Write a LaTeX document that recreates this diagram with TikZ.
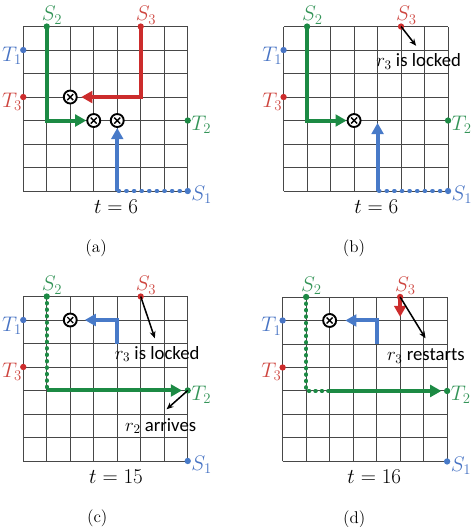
\RequirePackage{fix-cm}
\documentclass[tikz,border=0pt]{standalone}
\usepackage{fontspec}
\newfontfamily\notefont{Carlito}
\usetikzlibrary{arrows.meta}

\definecolor{pathgreen}{RGB}{28,138,68}
\definecolor{pathred}{RGB}{204,44,44}
\definecolor{pathblue}{RGB}{72,122,200}
\definecolor{lblgreen}{RGB}{52,148,88}
\definecolor{lblred}{RGB}{206,70,64}
\definecolor{lblblue}{RGB}{72,116,196}

\begin{document}
\begin{tikzpicture}[
        x=0.705cm, y=0.705cm,
        gridline/.style={draw=black!72, line width=0.8pt, step={(1,1)}},
        robot/.style={circle, fill=#1, minimum size=1.9mm, inner sep=0pt},
        route/.style={draw=#1, line width=3.4pt, -{Triangle[length=9.5pt,width=10pt]}},
        waited/.style={draw=#1, line width=3.4pt, line cap=round, dash pattern=on 0.6pt off 5.9pt},
        blocked/.style={circle, draw=black, line width=1.6pt, fill=white, minimum size=3.9mm, inner sep=0pt,
            path picture={\draw[line width=1.2pt] (path picture bounding box.center)
                +(-0.9mm,-0.9mm) -- +(0.9mm,0.9mm) +(-0.9mm,0.9mm) -- +(0.9mm,-0.9mm);}},
        lbl/.style={font=\fontsize{18}{20}\selectfont, text=#1, inner sep=1pt},
        note/.style={font=\notefont\fontsize{16}{18}\selectfont, inner sep=0pt},
        callout/.style={draw=black, line width=1.3pt, -{Stealth[length=6pt,width=5pt]}},
        timelbl/.style={font=\fontsize{18}{20}\selectfont},
        caption/.style={font=\fontsize{14.5}{17}\selectfont}
    ]

    \useasboundingbox (0,0) rectangle (20.17,22.43);

    % (a) three robots run into each other
    \begin{scope}[shift={(0.99,14.30)}, name prefix=a-]
        \draw[gridline] (0,0) grid (7,7);
        \node[robot=lblblue, label={[lbl=lblblue, yshift=-5pt, label distance=-3pt]left:$T_1$}] (t1) at (0,6) {};
        \node[robot=pathred, label={[lbl=lblred, yshift=-4pt, label distance=-3pt]left:$T_3$}] (t3) at (0,4) {};
        \node[robot=pathgreen, label={[lbl=lblgreen, yshift=-3.5pt, label distance=-1pt]right:$T_2$}] (t2) at (7,3) {};
        \node[robot=pathblue, label={[lbl=lblblue, yshift=-3.5pt, label distance=-1pt]right:$S_1$}] (s1) at (7,0) {};
        \node[robot=pathgreen, label={[lbl=lblgreen, xshift=4.5pt, label distance=-2pt]above:$S_2$}] (s2) at (1,7) {};
        \node[robot=pathred, label={[lbl=lblred, xshift=4.5pt, label distance=-2pt]above:$S_3$}] (s3) at (5,7) {};
        \node[blocked] (x3) at (2,4) {};
        \node[blocked] (x2) at (3,3) {};
        \node[blocked] (x1) at (4,3) {};
        \draw[route=pathgreen] (s2.center) |- (x2);
        \draw[route=pathred, shorten >=3pt] (s3.center) |- (x3);
        \draw[waited=pathblue] (s1.center) -- (4,0);
        \draw[route=pathblue] (4,0) -- (x1);
        \node[timelbl] (time) at (3.95,-0.68) {$t = 6$};
        \node[caption] (cap) at (3.1,-2.43) {(a)};
    \end{scope}

    % (b) r3 waits at its start
    \begin{scope}[shift={(12.07,14.30)}, name prefix=b-]
        \draw[gridline] (0,0) grid (7,7);
        \node[robot=lblblue, label={[lbl=lblblue, yshift=-5pt, label distance=-3pt]left:$T_1$}] (t1) at (0,6) {};
        \node[robot=pathred, label={[lbl=lblred, yshift=-4pt, label distance=-3pt]left:$T_3$}] (t3) at (0,4) {};
        \node[robot=pathgreen, label={[lbl=lblgreen, yshift=-3.5pt, label distance=-1pt]right:$T_2$}] (t2) at (7,3) {};
        \node[robot=pathblue, label={[lbl=lblblue, yshift=-3.5pt, label distance=-1pt]right:$S_1$}] (s1) at (7,0) {};
        \node[robot=pathgreen, label={[lbl=lblgreen, xshift=4.5pt, label distance=-2pt]above:$S_2$}] (s2) at (1,7) {};
        \node[robot=pathred, label={[lbl=lblred, xshift=4.5pt, label distance=-2pt]above:$S_3$}] (s3) at (5,7) {};
        \node[blocked] (x2) at (3,3) {};
        \coordinate (r1) at (4,2.9);
        \coordinate (lockend) at (5.64,6.18);
        \draw[route=pathgreen] (s2.center) |- (x2);
        \draw[waited=pathblue] (s1.center) -- (4,0);
        \draw[route=pathblue] (4,0) -- (r1);
        \draw[callout] (s3.center) -- (lockend);
        \node[note] (lockmsg) at (5.75,5.5) {$r_3$ is locked};
        \node[timelbl] (time) at (3.95,-0.68) {$t = 6$};
        \node[caption] (cap) at (3.0,-2.43) {(b)};
    \end{scope}

    % (c) r2 reaches its target
    \begin{scope}[shift={(0.99,2.81)}, name prefix=c-]
        \draw[gridline] (0,0) grid (7,7);
        \node[robot=lblblue, label={[lbl=lblblue, yshift=-5pt, label distance=-3pt]left:$T_1$}] (t1) at (0,6) {};
        \node[robot=pathred, label={[lbl=lblred, yshift=-4pt, label distance=-3pt]left:$T_3$}] (t3) at (0,4) {};
        \node[robot=pathgreen, label={[lbl=lblgreen, yshift=-3.5pt, label distance=-1pt]right:$T_2$}] (t2) at (7,3) {};
        \node[robot=pathblue, label={[lbl=lblblue, yshift=-3.5pt, label distance=-1pt]right:$S_1$}] (s1) at (7,0) {};
        \node[robot=pathgreen, label={[lbl=lblgreen, xshift=4.5pt, label distance=-2pt]above:$S_2$}] (s2) at (1,7) {};
        \node[robot=pathred, label={[lbl=lblred, xshift=4.5pt, label distance=-2pt]above:$S_3$}] (s3) at (5,7) {};
        \node[blocked] (x1) at (2,6) {};
        \coordinate (r1) at (4,5);
        \coordinate (lockend) at (5.6,5.22);
        \coordinate (arriveend) at (6.1,2.2);
        \draw[waited=pathgreen, dash pattern=on 0.5pt off 5pt] (s2.center) -- (1,3);
        \draw[route=pathgreen, shorten >=2pt] (1,3) -- (t2);
        \draw[route=pathblue, shorten >=6pt] (r1) |- (x1);
        \draw[callout] (s3.center) -- (lockend);
        \draw[callout] (t2.center) -- (arriveend);
        \node[note] (lockmsg) at (5.7,4.55) {$r_3$ is locked};
        \node[note] (arrivemsg) at (5.85,1.49) {$r_2$ arrives};
        \node[timelbl] (time) at (3.95,-0.67) {$t = 15$};
        \node[caption] (cap) at (3.15,-2.44) {(c)};
    \end{scope}

    % (d) r3 starts again
    \begin{scope}[shift={(12.03,2.79)}, name prefix=d-]
        \draw[gridline] (0,0) grid (7,7);
        \node[robot=lblblue, label={[lbl=lblblue, yshift=-5pt, label distance=-3pt]left:$T_1$}] (t1) at (0,6) {};
        \node[robot=pathred, label={[lbl=lblred, yshift=-4pt, label distance=-3pt]left:$T_3$}] (t3) at (0,4) {};
        \node[robot=pathgreen, label={[lbl=lblgreen, yshift=-3.5pt, label distance=-1pt]right:$T_2$}] (t2) at (7,3) {};
        \node[robot=pathblue, label={[lbl=lblblue, yshift=-3.5pt, label distance=-1pt]right:$S_1$}] (s1) at (7,0) {};
        \node[robot=pathgreen, label={[lbl=lblgreen, xshift=4.5pt, label distance=-2pt]above:$S_2$}] (s2) at (1,7) {};
        \node[robot=pathred, label={[lbl=lblred, xshift=4.5pt, label distance=-2pt]above:$S_3$}] (s3) at (5,7) {};
        \node[blocked] (x1) at (2,6) {};
        \coordinate (r1) at (4,5);
        \coordinate (r3) at (5,6.15);
        \coordinate (restartend) at (6.08,5.24);
        \draw[waited=pathgreen, dash pattern=on 0.5pt off 5pt] (s2.center) -- (1,3) -- (2,3);
        \draw[route=pathgreen, shorten >=2pt] (2,3) -- (t2);
        \draw[route=pathblue, shorten >=7pt] (r1) |- (x1);
        \draw[route=pathred] (s3.center) -- (r3);
        \draw[callout] (s3.center) -- (restartend);
        \node[note] (restartmsg) at (6.1,4.48) {$r_3$ restarts};
        \node[timelbl] (time) at (3.9,-0.67) {$t = 16$};
        \node[caption] (cap) at (3.05,-2.44) {(d)};
    \end{scope}

\end{tikzpicture}
\end{document}
